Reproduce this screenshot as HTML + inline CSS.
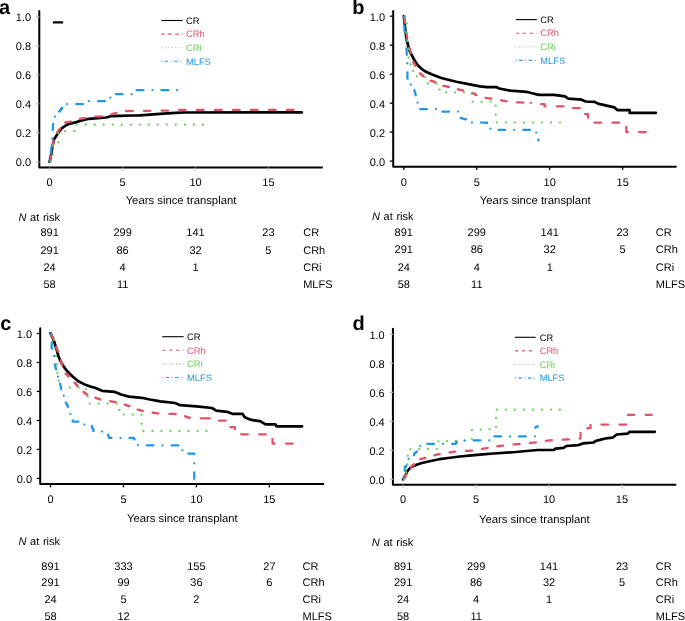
<!DOCTYPE html>
<html><head><meta charset="utf-8"><style>
html,body{margin:0;padding:0;background:#fff;}
svg{display:block;will-change:transform;}
text{font-family:"Liberation Sans",sans-serif;text-rendering:geometricPrecision;}
</style></head><body>
<svg width="685" height="621" viewBox="0 0 685 621">
<rect width="685" height="621" fill="#fff"/>

<text x="-1" y="13.6" font-size="20" font-weight="bold">a</text>
<polyline points="39.3,11.1 39.3,167.5 322.0,167.5" fill="none" stroke="#000" stroke-width="2" stroke-linecap="round" stroke-linejoin="round"/>
<line x1="35.9" y1="161.80" x2="39.3" y2="161.80" stroke="#bdbdbd" stroke-width="1.3"/>
<text x="31.1" y="166.00" font-size="11.0" text-anchor="end">0.0</text>
<line x1="35.9" y1="132.82" x2="39.3" y2="132.82" stroke="#bdbdbd" stroke-width="1.3"/>
<text x="31.1" y="137.02" font-size="11.0" text-anchor="end">0.2</text>
<line x1="35.9" y1="103.84" x2="39.3" y2="103.84" stroke="#bdbdbd" stroke-width="1.3"/>
<text x="31.1" y="108.04" font-size="11.0" text-anchor="end">0.4</text>
<line x1="35.9" y1="74.86" x2="39.3" y2="74.86" stroke="#bdbdbd" stroke-width="1.3"/>
<text x="31.1" y="79.06" font-size="11.0" text-anchor="end">0.6</text>
<line x1="35.9" y1="45.88" x2="39.3" y2="45.88" stroke="#bdbdbd" stroke-width="1.3"/>
<text x="31.1" y="50.08" font-size="11.0" text-anchor="end">0.8</text>
<line x1="35.9" y1="16.90" x2="39.3" y2="16.90" stroke="#bdbdbd" stroke-width="1.3"/>
<text x="31.1" y="21.10" font-size="11.0" text-anchor="end">1.0</text>
<line x1="49.60" y1="167.5" x2="49.60" y2="170.9" stroke="#bdbdbd" stroke-width="1.3"/>
<text x="49.60" y="186.0" font-size="11.0" text-anchor="middle">0</text>
<line x1="122.55" y1="167.5" x2="122.55" y2="170.9" stroke="#bdbdbd" stroke-width="1.3"/>
<text x="122.55" y="186.0" font-size="11.0" text-anchor="middle">5</text>
<line x1="195.50" y1="167.5" x2="195.50" y2="170.9" stroke="#bdbdbd" stroke-width="1.3"/>
<text x="195.50" y="186.0" font-size="11.0" text-anchor="middle">10</text>
<line x1="268.45" y1="167.5" x2="268.45" y2="170.9" stroke="#bdbdbd" stroke-width="1.3"/>
<text x="268.45" y="186.0" font-size="11.0" text-anchor="middle">15</text>
<text x="181.0" y="204.4" font-size="11.3" text-anchor="middle">Years since transplant</text>
<line x1="161.3" y1="20.5" x2="182.7" y2="20.5" stroke="#000000" stroke-width="1.1"/>
<text x="186.0" y="23.7" font-size="9.3" fill="#000000">CR</text>
<line x1="161.3" y1="34.1" x2="182.7" y2="34.1" stroke="#DF536B" stroke-width="1.1" stroke-dasharray="3.44,3.44"/>
<text x="186.0" y="37.3" font-size="9.3" fill="#DF536B">CRh</text>
<line x1="161.3" y1="47.7" x2="182.7" y2="47.7" stroke="#61D04F" stroke-width="1.1" stroke-dasharray="0.86,2.58"/>
<text x="186.0" y="50.9" font-size="9.3" fill="#61D04F">CRi</text>
<line x1="161.3" y1="61.3" x2="182.7" y2="61.3" stroke="#2297E6" stroke-width="1.1" stroke-dasharray="0.86,2.58,3.44,2.58"/>
<text x="186.0" y="64.5" font-size="9.3" fill="#2297E6">MLFS</text>
<polyline points="49.60,161.80 51.00,155.00 52.50,146.00 54.00,139.50 56.50,135.50 58.60,132.20 62.00,128.20 66.50,125.00 70.00,123.60 75.50,122.40 80.00,121.00 88.80,118.80 106.30,117.50 110.60,116.20 119.40,115.80 132.50,115.50 140.00,115.40 160.00,113.90 175.00,112.90 184.00,112.50 301.80,112.40" fill="none" stroke="#000000" stroke-width="2.7" stroke-linecap="round" stroke-linejoin="round"/>
<polyline points="49.60,162.20 49.87,162.20 49.87,160.74 50.14,160.74 50.14,159.29 50.41,159.29 50.41,157.83 50.69,157.83 50.69,156.37 50.96,156.37 50.96,154.91 51.23,154.91 51.23,153.46 51.50,153.46 51.50,152.00 51.76,152.00 51.76,150.50 52.02,150.50 52.02,149.00 52.29,149.00 52.29,147.50 52.55,147.50 52.55,146.00 52.81,146.00 52.81,144.50 53.08,144.50 53.08,143.00 53.34,143.00 53.34,141.50 53.60,141.50 53.60,140.00 54.16,140.00 54.16,138.66 54.72,138.66 54.72,137.32 55.28,137.32 55.28,135.98 55.84,135.98 55.84,134.64 56.40,134.64 56.40,133.30 57.25,133.30 57.25,132.03 58.10,132.03 58.10,130.75 58.95,130.75 58.95,129.47 59.80,129.47 59.80,128.20 60.92,128.20 60.92,126.80 62.05,126.80 62.05,125.40 63.17,125.40 63.17,124.00 64.30,124.00 64.30,122.60 65.64,122.60 65.64,122.38 66.98,122.38 66.98,122.16 68.32,122.16 68.32,121.94 69.66,121.94 69.66,121.72 71.00,121.72 71.00,121.50 72.50,121.50 72.50,121.00 74.00,121.00 74.00,120.50 75.50,120.50 75.50,120.00 77.00,120.00 77.00,119.50 78.50,119.50 78.50,119.00 80.00,119.00 80.00,118.50 81.50,118.50 81.50,118.38 83.00,118.38 83.00,118.25 84.50,118.25 84.50,118.12 86.00,118.12 86.00,118.00 87.60,118.00 87.60,117.72 89.20,117.72 89.20,117.44 90.80,117.44 90.80,117.16 92.40,117.16 92.40,116.88 94.00,116.88 94.00,116.60 103.00,116.40 104.25,116.40 104.25,116.18 105.50,116.18 105.50,115.95 106.75,115.95 106.75,115.72 108.00,115.72 108.00,115.50 109.30,115.50 109.30,114.95 110.60,114.95 110.60,114.40 111.92,114.40 111.92,114.06 113.24,114.06 113.24,113.72 114.56,113.72 114.56,113.38 115.88,113.38 115.88,113.04 117.20,113.04 117.20,112.70 118.60,112.70 118.60,111.95 120.00,111.95 120.00,111.20 133.00,110.90 134.57,110.90 134.57,110.89 136.14,110.89 136.14,110.87 137.72,110.87 137.72,110.86 139.29,110.86 139.29,110.84 140.86,110.84 140.86,110.83 142.43,110.83 142.43,110.82 144.01,110.82 144.01,110.80 145.58,110.80 145.58,110.79 147.15,110.79 147.15,110.78 148.72,110.78 148.72,110.76 150.30,110.76 150.30,110.75 151.87,110.75 151.87,110.73 153.44,110.73 153.44,110.72 155.01,110.72 155.01,110.71 156.59,110.71 156.59,110.69 158.16,110.69 158.16,110.68 159.73,110.68 159.73,110.67 161.30,110.67 161.30,110.65 162.88,110.65 162.88,110.64 164.45,110.64 164.45,110.62 166.02,110.62 166.02,110.61 167.59,110.61 167.59,110.60 169.17,110.60 169.17,110.58 170.74,110.58 170.74,110.57 172.31,110.57 172.31,110.56 173.88,110.56 173.88,110.54 175.46,110.54 175.46,110.53 177.03,110.53 177.03,110.51 178.60,110.51 178.60,110.50 179.00,110.50 179.00,109.90 297.00,109.90" fill="none" stroke="#DF536B" stroke-width="2.25" stroke-dasharray="6.75,11.25" stroke-linecap="round" stroke-dashoffset="-1.125" stroke-linejoin="round"/>
<polyline points="49.60,161.80 52.80,161.80 52.80,143.50 58.40,143.50 58.40,131.20 75.50,131.20 75.50,124.70 203.00,124.70" fill="none" stroke="#61D04F" stroke-width="2.25" stroke-dasharray="0.01,9.00" stroke-linecap="round" stroke-dashoffset="-1.125" stroke-linejoin="round"/>
<polyline points="49.60,161.80 49.77,161.80 49.77,160.33 49.95,160.33 49.95,158.85 50.12,158.85 50.12,157.38 50.30,157.38 50.30,155.90 50.48,155.90 50.48,154.43 50.65,154.43 50.65,152.95 50.83,152.95 50.83,151.47 51.00,151.47 51.00,150.00 51.17,150.00 51.17,148.55 51.35,148.55 51.35,147.10 51.52,147.10 51.52,145.65 51.70,145.65 51.70,144.20 51.88,144.20 51.88,142.75 52.05,142.75 52.05,141.30 52.23,141.30 52.23,139.85 52.40,139.85 52.40,138.40 52.46,138.40 52.46,136.96 52.52,136.96 52.52,135.52 52.58,135.52 52.58,134.08 52.64,134.08 52.64,132.64 52.70,132.64 52.70,131.20 52.76,131.20 52.76,129.76 52.82,129.76 52.82,128.32 52.88,128.32 52.88,126.88 52.94,126.88 52.94,125.44 53.00,125.44 53.00,124.00 53.32,124.00 53.32,122.50 53.64,122.50 53.64,121.00 53.96,121.00 53.96,119.50 54.28,119.50 54.28,118.00 54.60,118.00 54.60,116.50 55.70,116.50 55.70,115.22 56.80,115.22 56.80,113.95 57.90,113.95 57.90,112.68 59.00,112.68 59.00,111.40 59.97,111.40 59.97,110.17 60.93,110.17 60.93,108.93 61.90,108.93 61.90,107.70 63.37,107.70 63.37,106.47 64.83,106.47 64.83,105.23 66.30,105.23 66.30,104.00 87.00,104.00 87.00,101.20 107.00,101.20 107.00,97.50 112.00,97.50 112.00,94.20 134.50,94.20 134.50,90.20 178.60,90.20" fill="none" stroke="#2297E6" stroke-width="2.25" stroke-dasharray="0.01,9.00,6.75,9.00" stroke-linecap="round" stroke-dashoffset="-1.125" stroke-linejoin="round"/>
<text x="18.5" y="220.6" font-size="11.0" word-spacing="0.6"><tspan font-style="italic">N</tspan> at risk</text>
<text x="49.6" y="236.3" font-size="11.0" text-anchor="middle">891</text>
<text x="122.6" y="236.3" font-size="11.0" text-anchor="middle">299</text>
<text x="195.5" y="236.3" font-size="11.0" text-anchor="middle">141</text>
<text x="268.4" y="236.3" font-size="11.0" text-anchor="middle">23</text>
<text x="303.2" y="236.3" font-size="11.0">CR</text>
<text x="49.6" y="253.7" font-size="11.0" text-anchor="middle">291</text>
<text x="122.6" y="253.7" font-size="11.0" text-anchor="middle">86</text>
<text x="195.5" y="253.7" font-size="11.0" text-anchor="middle">32</text>
<text x="268.4" y="253.7" font-size="11.0" text-anchor="middle">5</text>
<text x="303.2" y="253.7" font-size="11.0">CRh</text>
<text x="49.6" y="270.9" font-size="11.0" text-anchor="middle">24</text>
<text x="122.6" y="270.9" font-size="11.0" text-anchor="middle">4</text>
<text x="195.5" y="270.9" font-size="11.0" text-anchor="middle">1</text>
<text x="303.2" y="270.9" font-size="11.0">CRi</text>
<text x="49.6" y="288.3" font-size="11.0" text-anchor="middle">58</text>
<text x="122.6" y="288.3" font-size="11.0" text-anchor="middle">11</text>
<text x="303.2" y="288.3" font-size="11.0">MLFS</text>
<text x="352.2" y="14.0" font-size="20" font-weight="bold">b</text>
<polyline points="393.2,10.9 393.2,166.7 675.8,166.7" fill="none" stroke="#000" stroke-width="2" stroke-linecap="round" stroke-linejoin="round"/>
<line x1="389.8" y1="161.10" x2="393.2" y2="161.10" stroke="#000" stroke-width="1.3"/>
<text x="385.0" y="165.90" font-size="11.0" text-anchor="end">0.0</text>
<line x1="389.8" y1="132.12" x2="393.2" y2="132.12" stroke="#000" stroke-width="1.3"/>
<text x="385.0" y="136.92" font-size="11.0" text-anchor="end">0.2</text>
<line x1="389.8" y1="103.14" x2="393.2" y2="103.14" stroke="#000" stroke-width="1.3"/>
<text x="385.0" y="107.94" font-size="11.0" text-anchor="end">0.4</text>
<line x1="389.8" y1="74.16" x2="393.2" y2="74.16" stroke="#000" stroke-width="1.3"/>
<text x="385.0" y="78.96" font-size="11.0" text-anchor="end">0.6</text>
<line x1="389.8" y1="45.18" x2="393.2" y2="45.18" stroke="#000" stroke-width="1.3"/>
<text x="385.0" y="49.98" font-size="11.0" text-anchor="end">0.8</text>
<line x1="389.8" y1="16.20" x2="393.2" y2="16.20" stroke="#000" stroke-width="1.3"/>
<text x="385.0" y="21.00" font-size="11.0" text-anchor="end">1.0</text>
<line x1="403.80" y1="166.7" x2="403.80" y2="170.1" stroke="#000" stroke-width="1.3"/>
<text x="403.80" y="186.2" font-size="11.0" text-anchor="middle">0</text>
<line x1="476.75" y1="166.7" x2="476.75" y2="170.1" stroke="#000" stroke-width="1.3"/>
<text x="476.75" y="186.2" font-size="11.0" text-anchor="middle">5</text>
<line x1="549.70" y1="166.7" x2="549.70" y2="170.1" stroke="#000" stroke-width="1.3"/>
<text x="549.70" y="186.2" font-size="11.0" text-anchor="middle">10</text>
<line x1="622.65" y1="166.7" x2="622.65" y2="170.1" stroke="#000" stroke-width="1.3"/>
<text x="622.65" y="186.2" font-size="11.0" text-anchor="middle">15</text>
<text x="535.2" y="204.2" font-size="11.3" text-anchor="middle">Years since transplant</text>
<line x1="515.8" y1="19.6" x2="536.8" y2="19.6" stroke="#000000" stroke-width="1.1"/>
<text x="540.3" y="22.8" font-size="9.3" fill="#000000">CR</text>
<line x1="515.8" y1="33.2" x2="536.8" y2="33.2" stroke="#DF536B" stroke-width="1.1" stroke-dasharray="3.44,3.44"/>
<text x="540.3" y="36.4" font-size="9.3" fill="#DF536B">CRh</text>
<line x1="515.8" y1="46.8" x2="536.8" y2="46.8" stroke="#61D04F" stroke-width="1.1" stroke-dasharray="0.86,2.58"/>
<text x="540.3" y="50.0" font-size="9.3" fill="#61D04F">CRi</text>
<line x1="515.8" y1="60.4" x2="536.8" y2="60.4" stroke="#2297E6" stroke-width="1.1" stroke-dasharray="0.86,2.58,3.44,2.58"/>
<text x="540.3" y="63.6" font-size="9.3" fill="#2297E6">MLFS</text>
<polyline points="403.80,16.20 406.40,39.20 409.60,50.90 414.00,59.60 417.00,64.20 421.30,68.60 426.00,71.80 431.50,74.30 441.30,78.00 456.30,81.70 470.90,84.60 480.00,86.30 487.00,87.20 496.60,87.20 499.30,88.50 510.60,90.70 526.40,91.80 530.00,92.70 538.80,94.90 554.10,94.90 565.00,96.40 568.30,98.60 581.50,99.70 585.80,101.50 594.60,101.90 597.90,103.60 614.30,107.40 617.60,110.20 629.60,110.20 629.60,112.80 655.90,112.80" fill="none" stroke="#000000" stroke-width="2.7" stroke-linecap="round" stroke-linejoin="round"/>
<polyline points="403.80,16.20 404.03,16.20 404.03,17.73 404.25,17.73 404.25,19.26 404.48,19.26 404.48,20.79 404.70,20.79 404.70,22.32 404.93,22.32 404.93,23.86 405.15,23.86 405.15,25.39 405.38,25.39 405.38,26.92 405.60,26.92 405.60,28.45 405.82,28.45 405.82,29.98 406.05,29.98 406.05,31.51 406.27,31.51 406.27,33.04 406.50,33.04 406.50,34.58 406.72,34.58 406.72,36.11 406.95,36.11 406.95,37.64 407.17,37.64 407.17,39.17 407.40,39.17 407.40,40.70 407.77,40.70 407.77,42.15 408.13,42.15 408.13,43.60 408.50,43.60 408.50,45.05 408.87,45.05 408.87,46.50 409.23,46.50 409.23,47.95 409.60,47.95 409.60,49.40 410.00,49.40 410.00,50.87 410.40,50.87 410.40,52.33 410.80,52.33 410.80,53.80 411.20,53.80 411.20,55.27 411.60,55.27 411.60,56.73 412.00,56.73 412.00,58.20 412.40,58.20 412.40,59.67 412.80,59.67 412.80,61.13 413.20,61.13 413.20,62.60 414.07,62.60 414.07,64.05 414.93,64.05 414.93,65.50 415.80,65.50 415.80,66.95 416.67,66.95 416.67,68.40 417.53,68.40 417.53,69.85 418.40,69.85 418.40,71.30 418.75,71.30 418.75,72.30 419.10,72.30 419.10,73.30 420.50,73.30 420.50,74.42 421.90,74.42 421.90,75.53 423.30,75.53 423.30,76.65 424.70,76.65 424.70,77.77 426.10,77.77 426.10,78.88 427.50,78.88 427.50,80.00 428.88,80.00 428.88,80.38 430.25,80.38 430.25,80.75 431.62,80.75 431.62,81.12 433.00,81.12 433.00,81.50 434.60,81.50 434.60,82.26 436.20,82.26 436.20,83.02 437.80,83.02 437.80,83.78 439.40,83.78 439.40,84.54 441.00,84.54 441.00,85.30 442.10,85.30 442.10,85.60 443.20,85.60 443.20,85.90 444.66,85.90 444.66,86.24 446.11,86.24 446.11,86.59 447.57,86.59 447.57,86.93 449.02,86.93 449.02,87.28 450.48,87.28 450.48,87.62 451.93,87.62 451.93,87.97 453.39,87.97 453.39,88.31 454.84,88.31 454.84,88.66 456.30,88.66 456.30,89.00 457.83,89.00 457.83,89.40 459.36,89.40 459.36,89.80 460.89,89.80 460.89,90.20 462.42,90.20 462.42,90.60 463.95,90.60 463.95,91.00 465.48,91.00 465.48,91.40 467.01,91.40 467.01,91.80 468.54,91.80 468.54,92.20 470.07,92.20 470.07,92.60 471.60,92.60 471.60,93.00 473.07,93.00 473.07,93.73 474.53,93.73 474.53,94.47 476.00,94.47 476.00,95.20 477.47,95.20 477.47,95.93 478.93,95.93 478.93,96.67 480.40,96.67 480.40,97.40 482.60,97.60 484.16,97.60 484.16,97.81 485.71,97.81 485.71,98.03 487.27,98.03 487.27,98.24 488.83,98.24 488.83,98.46 490.39,98.46 490.39,98.67 491.94,98.67 491.94,98.89 493.50,98.89 493.50,99.10 495.09,99.10 495.09,99.38 496.68,99.38 496.68,99.66 498.27,99.66 498.27,99.95 499.86,99.95 499.86,100.23 501.45,100.23 501.45,100.51 503.05,100.51 503.05,100.79 504.64,100.79 504.64,101.07 506.23,101.07 506.23,101.35 507.82,101.35 507.82,101.64 509.41,101.64 509.41,101.92 511.00,101.92 511.00,102.20 512.52,102.20 512.52,102.25 514.05,102.25 514.05,102.29 515.57,102.29 515.57,102.34 517.09,102.34 517.09,102.38 518.62,102.38 518.62,102.43 520.14,102.43 520.14,102.48 521.66,102.48 521.66,102.52 523.18,102.52 523.18,102.57 524.71,102.57 524.71,102.62 526.23,102.62 526.23,102.66 527.75,102.66 527.75,102.71 529.28,102.71 529.28,102.75 530.80,102.75 530.80,102.80" fill="none" stroke="#DF536B" stroke-width="2.25" stroke-dasharray="6.75,11.25" stroke-linecap="round" stroke-dashoffset="-1.125" stroke-linejoin="round"/>
<polyline points="530.80,102.80 541.00,102.80 541.00,104.10 544.50,104.10 544.50,106.30 570.00,106.30 570.00,108.00 583.00,108.00 583.00,114.00 588.00,114.00 588.00,122.70 626.30,122.70 626.30,132.10 647.10,132.10" fill="none" stroke="#DF536B" stroke-width="2.25" stroke-dasharray="6.75,11.25" stroke-linecap="round" stroke-dashoffset="6.475" stroke-linejoin="round"/>
<polyline points="403.80,16.20 406.00,16.20 406.00,22.40 406.70,22.40 406.70,39.20 406.93,39.20 406.93,40.67 407.17,40.67 407.17,42.13 407.40,42.13 407.40,43.60 407.63,43.60 407.63,45.07 407.87,45.07 407.87,46.53 408.10,46.53 408.10,48.00 408.10,56.70 408.54,56.70 408.54,58.16 408.98,58.16 408.98,59.62 409.42,59.62 409.42,61.08 409.86,61.08 409.86,62.54 410.30,62.54 410.30,64.00 410.74,64.00 410.74,65.32 411.18,65.32 411.18,66.64 411.62,66.64 411.62,67.96 412.06,67.96 412.06,69.28 412.50,69.28 412.50,70.60 413.23,70.60 413.23,72.05 413.95,72.05 413.95,73.50 414.67,73.50 414.67,74.95 415.40,74.95 415.40,76.40 424.90,76.40 425.20,76.40 425.20,77.80 425.50,77.80 425.50,79.20 425.80,79.20 425.80,80.60 426.10,80.60 426.10,82.00 426.40,82.00 426.40,83.40 435.90,83.40 436.62,83.40 436.62,84.98 437.35,84.98 437.35,86.55 438.07,86.55 438.07,88.12 438.80,88.12 438.80,89.70 440.12,89.70 440.12,90.22 441.44,90.22 441.44,90.74 442.76,90.74 442.76,91.26 444.08,91.26 444.08,91.78 445.40,91.78 445.40,92.30 471.60,92.30 471.68,92.30 471.68,93.87 471.77,93.87 471.77,95.43 471.85,95.43 471.85,97.00 471.93,97.00 471.93,98.57 472.02,98.57 472.02,100.13 472.10,100.13 472.10,101.70 495.70,101.70 495.70,122.50 560.70,122.50" fill="none" stroke="#61D04F" stroke-width="2.25" stroke-dasharray="0.01,9.00" stroke-linecap="round" stroke-dashoffset="-1.125" stroke-linejoin="round"/>
<polyline points="403.80,16.20 403.92,16.20 403.92,17.60 404.03,17.60 404.03,19.00 404.15,19.00 404.15,20.40 404.27,20.40 404.27,21.80 404.38,21.80 404.38,23.20 404.50,23.20 404.50,24.60 404.50,30.40 404.75,30.40 404.75,31.87 405.00,31.87 405.00,33.33 405.25,33.33 405.25,34.80 405.50,34.80 405.50,36.27 405.75,36.27 405.75,37.73 406.00,37.73 406.00,39.20 406.07,39.20 406.07,40.66 406.14,40.66 406.14,42.12 406.21,42.12 406.21,43.58 406.28,43.58 406.28,45.04 406.35,45.04 406.35,46.50 406.42,46.50 406.42,47.96 406.49,47.96 406.49,49.42 406.56,49.42 406.56,50.88 406.63,50.88 406.63,52.34 406.70,52.34 406.70,53.80 406.82,53.80 406.82,55.27 406.93,55.27 406.93,56.73 407.05,56.73 407.05,58.20 407.17,58.20 407.17,59.67 407.28,59.67 407.28,61.13 407.40,61.13 407.40,62.60 407.40,78.60 407.95,78.60 407.95,80.07 408.50,80.07 408.50,81.55 409.05,81.55 409.05,83.03 409.60,83.03 409.60,84.50 410.70,84.50 410.70,85.78 411.80,85.78 411.80,87.05 412.90,87.05 412.90,88.32 414.00,88.32 414.00,89.60 414.35,89.60 414.35,90.88 414.70,90.88 414.70,92.15 415.05,92.15 415.05,93.42 415.40,93.42 415.40,94.70 415.70,94.70 415.70,96.10 416.00,96.10 416.00,97.50 416.30,97.50 416.30,98.90 416.60,98.90 416.60,100.30 416.90,100.30 416.90,101.70 417.56,101.70 417.56,103.16 418.22,103.16 418.22,104.62 418.88,104.62 418.88,106.08 419.54,106.08 419.54,107.54 420.20,107.54 420.20,109.00 438.00,109.00 438.00,111.60 459.00,111.60 459.34,111.60 459.34,112.92 459.68,112.92 459.68,114.24 460.02,114.24 460.02,115.56 460.36,115.56 460.36,116.88 460.70,116.88 460.70,118.20 462.13,118.20 462.13,118.57 463.57,118.57 463.57,118.93 465.00,118.93 465.00,119.30 466.32,119.30 466.32,119.94 467.64,119.94 467.64,120.58 468.96,120.58 468.96,121.22 470.28,121.22 470.28,121.86 471.60,121.86 471.60,122.50 486.00,122.50 487.05,122.50 487.05,124.05 488.10,124.05 488.10,125.60 489.15,125.60 489.15,127.15 490.20,127.15 490.20,128.70 491.74,128.70 491.74,128.92 493.28,128.92 493.28,129.14 494.82,129.14 494.82,129.36 496.36,129.36 496.36,129.58 497.90,129.58 497.90,129.80 531.90,129.80 533.33,129.80 533.33,131.03 534.77,131.03 534.77,132.27 536.20,132.27 536.20,133.50 536.64,133.50 536.64,134.90 537.08,134.90 537.08,136.30 537.52,136.30 537.52,137.70 537.96,137.70 537.96,139.10 538.40,139.10 538.40,140.50" fill="none" stroke="#2297E6" stroke-width="2.25" stroke-dasharray="0.01,9.00,6.75,9.00" stroke-linecap="round" stroke-dashoffset="-1.125" stroke-linejoin="round"/>
<text x="372.0" y="220.3" font-size="11.0" word-spacing="0.6"><tspan font-style="italic">N</tspan> at risk</text>
<text x="403.8" y="236.2" font-size="11.0" text-anchor="middle">891</text>
<text x="476.8" y="236.2" font-size="11.0" text-anchor="middle">299</text>
<text x="549.7" y="236.2" font-size="11.0" text-anchor="middle">141</text>
<text x="622.6" y="236.2" font-size="11.0" text-anchor="middle">23</text>
<text x="655.8" y="236.2" font-size="11.0">CR</text>
<text x="403.8" y="253.4" font-size="11.0" text-anchor="middle">291</text>
<text x="476.8" y="253.4" font-size="11.0" text-anchor="middle">86</text>
<text x="549.7" y="253.4" font-size="11.0" text-anchor="middle">32</text>
<text x="622.6" y="253.4" font-size="11.0" text-anchor="middle">5</text>
<text x="655.8" y="253.4" font-size="11.0">CRh</text>
<text x="403.8" y="270.5" font-size="11.0" text-anchor="middle">24</text>
<text x="476.8" y="270.5" font-size="11.0" text-anchor="middle">4</text>
<text x="549.7" y="270.5" font-size="11.0" text-anchor="middle">1</text>
<text x="655.8" y="270.5" font-size="11.0">CRi</text>
<text x="403.8" y="288.3" font-size="11.0" text-anchor="middle">58</text>
<text x="476.8" y="288.3" font-size="11.0" text-anchor="middle">11</text>
<text x="655.8" y="288.3" font-size="11.0">MLFS</text>
<text x="0.2" y="330.2" font-size="20" font-weight="bold">c</text>
<polyline points="40.2,328.3 40.2,484.0 323.3,484.0" fill="none" stroke="#000" stroke-width="2" stroke-linecap="round" stroke-linejoin="round"/>
<line x1="36.800000000000004" y1="478.40" x2="40.2" y2="478.40" stroke="#000" stroke-width="1.3"/>
<text x="32.0" y="482.70" font-size="11.0" text-anchor="end">0.0</text>
<line x1="36.800000000000004" y1="449.42" x2="40.2" y2="449.42" stroke="#000" stroke-width="1.3"/>
<text x="32.0" y="453.72" font-size="11.0" text-anchor="end">0.2</text>
<line x1="36.800000000000004" y1="420.44" x2="40.2" y2="420.44" stroke="#000" stroke-width="1.3"/>
<text x="32.0" y="424.74" font-size="11.0" text-anchor="end">0.4</text>
<line x1="36.800000000000004" y1="391.46" x2="40.2" y2="391.46" stroke="#000" stroke-width="1.3"/>
<text x="32.0" y="395.76" font-size="11.0" text-anchor="end">0.6</text>
<line x1="36.800000000000004" y1="362.48" x2="40.2" y2="362.48" stroke="#000" stroke-width="1.3"/>
<text x="32.0" y="366.78" font-size="11.0" text-anchor="end">0.8</text>
<line x1="36.800000000000004" y1="333.50" x2="40.2" y2="333.50" stroke="#000" stroke-width="1.3"/>
<text x="32.0" y="337.80" font-size="11.0" text-anchor="end">1.0</text>
<line x1="50.50" y1="484.0" x2="50.50" y2="487.4" stroke="#000" stroke-width="1.3"/>
<text x="50.50" y="503.0" font-size="11.0" text-anchor="middle">0</text>
<line x1="123.45" y1="484.0" x2="123.45" y2="487.4" stroke="#000" stroke-width="1.3"/>
<text x="123.45" y="503.0" font-size="11.0" text-anchor="middle">5</text>
<line x1="196.40" y1="484.0" x2="196.40" y2="487.4" stroke="#000" stroke-width="1.3"/>
<text x="196.40" y="503.0" font-size="11.0" text-anchor="middle">10</text>
<line x1="269.35" y1="484.0" x2="269.35" y2="487.4" stroke="#000" stroke-width="1.3"/>
<text x="269.35" y="503.0" font-size="11.0" text-anchor="middle">15</text>
<text x="182.3" y="522.4" font-size="11.3" text-anchor="middle">Years since transplant</text>
<line x1="162.3" y1="336.7" x2="183.6" y2="336.7" stroke="#000000" stroke-width="1.1"/>
<text x="187.1" y="339.9" font-size="9.3" fill="#000000">CR</text>
<line x1="162.3" y1="350.3" x2="183.6" y2="350.3" stroke="#DF536B" stroke-width="1.1" stroke-dasharray="3.44,3.44"/>
<text x="187.1" y="353.5" font-size="9.3" fill="#DF536B">CRh</text>
<line x1="162.3" y1="363.9" x2="183.6" y2="363.9" stroke="#61D04F" stroke-width="1.1" stroke-dasharray="0.86,2.58"/>
<text x="187.1" y="367.1" font-size="9.3" fill="#61D04F">CRi</text>
<line x1="162.3" y1="377.5" x2="183.6" y2="377.5" stroke="#2297E6" stroke-width="1.1" stroke-dasharray="0.86,2.58,3.44,2.58"/>
<text x="187.1" y="380.7" font-size="9.3" fill="#2297E6">MLFS</text>
<polyline points="50.50,333.30 53.80,340.50 56.40,348.80 58.50,356.20 60.60,361.40 63.70,366.60 66.80,370.80 72.10,376.00 78.30,381.30 84.60,384.40 91.90,387.00 95.00,387.80 102.00,390.80 114.90,391.90 121.90,394.80 128.90,396.60 141.70,397.80 149.90,399.50 160.40,401.30 175.00,403.00 180.20,405.20 190.00,405.80 196.60,406.30 211.90,408.00 216.30,410.70 227.20,411.80 232.70,413.90 242.60,413.90 244.70,417.20 251.30,419.90 260.10,421.20 265.50,424.40 275.40,424.40 276.50,426.40 302.10,426.40" fill="none" stroke="#000000" stroke-width="2.7" stroke-linecap="round" stroke-linejoin="round"/>
<polyline points="50.50,333.50 51.18,333.50 51.18,335.00 51.87,335.00 51.87,336.50 52.55,336.50 52.55,338.00 53.23,338.00 53.23,339.50 53.92,339.50 53.92,341.00 54.60,341.00 54.60,342.50 55.09,342.50 55.09,343.97 55.58,343.97 55.58,345.43 56.07,345.43 56.07,346.90 56.56,346.90 56.56,348.37 57.04,348.37 57.04,349.83 57.53,349.83 57.53,351.30 58.02,351.30 58.02,352.77 58.51,352.77 58.51,354.23 59.00,354.23 59.00,355.70 59.46,355.70 59.46,357.22 59.93,357.22 59.93,358.74 60.39,358.74 60.39,360.25 60.85,360.25 60.85,361.77 61.32,361.77 61.32,363.29 61.78,363.29 61.78,364.81 62.25,364.81 62.25,366.33 62.71,366.33 62.71,367.85 63.17,367.85 63.17,369.36 63.64,369.36 63.64,370.88 64.10,370.88 64.10,372.40 65.43,372.40 65.43,373.75 66.77,373.75 66.77,375.10 68.10,375.10 68.10,376.45 69.43,376.45 69.43,377.80 70.77,377.80 70.77,379.15 72.10,379.15 72.10,380.50 73.36,380.50 73.36,381.93 74.61,381.93 74.61,383.36 75.87,383.36 75.87,384.79 77.13,384.79 77.13,386.21 78.39,386.21 78.39,387.64 79.64,387.64 79.64,389.07 80.90,389.07 80.90,390.50 82.25,390.50 82.25,391.50 83.60,391.50 83.60,392.50 84.95,392.50 84.95,393.50 86.30,393.50 86.30,394.50 87.65,394.50 87.65,395.50 89.00,395.50 89.00,396.50 90.05,396.50 90.05,396.65 91.10,396.65 91.10,396.80 92.60,396.80 92.60,397.26 94.10,397.26 94.10,397.73 95.60,397.73 95.60,398.19 97.10,398.19 97.10,398.65 98.60,398.65 98.60,399.11 100.10,399.11 100.10,399.57 101.60,399.57 101.60,400.04 103.10,400.04 103.10,400.50 105.70,400.50 107.22,400.50 107.22,400.76 108.74,400.76 108.74,401.01 110.27,401.01 110.27,401.27 111.79,401.27 111.79,401.52 113.31,401.52 113.31,401.78 114.83,401.78 114.83,402.03 116.36,402.03 116.36,402.29 117.88,402.29 117.88,402.54 119.40,402.54 119.40,402.80 120.90,402.80 120.90,403.37 122.40,403.37 122.40,403.94 123.90,403.94 123.90,404.51 125.40,404.51 125.40,405.09 126.90,405.09 126.90,405.66 128.40,405.66 128.40,406.23 129.90,406.23 129.90,406.80 131.40,406.80 131.40,407.34 132.90,407.34 132.90,407.89 134.40,407.89 134.40,408.43 135.90,408.43 135.90,408.97 137.40,408.97 137.40,409.51 138.90,409.51 138.90,410.06 140.40,410.06 140.40,410.60 141.89,410.60 141.89,410.85 143.38,410.85 143.38,411.11 144.87,411.11 144.87,411.36 146.36,411.36 146.36,411.62 147.85,411.62 147.85,411.87 149.35,411.87 149.35,412.13 150.84,412.13 150.84,412.38 152.33,412.38 152.33,412.64 153.82,412.64 153.82,412.89 155.31,412.89 155.31,413.15 156.80,413.15 156.80,413.40 158.30,413.40 158.30,413.45 159.80,413.45 159.80,413.50 161.30,413.50 161.30,413.55 162.80,413.55 162.80,413.60 164.30,413.60 164.30,413.65 165.80,413.65 165.80,413.70 167.30,413.70 167.30,413.75 168.80,413.75 168.80,413.80 170.30,413.80 170.30,413.85 171.80,413.85 171.80,413.90 173.30,413.90 173.30,413.95 174.80,413.95 174.80,414.00 176.30,414.00 176.30,414.05 177.80,414.05 177.80,414.10 179.26,414.10 179.26,414.59 180.73,414.59 180.73,415.08 182.19,415.08 182.19,415.56 183.65,415.56 183.65,416.05 185.11,416.05 185.11,416.54 186.57,416.54 186.57,417.02 188.04,417.02 188.04,417.51 189.50,417.51 189.50,418.00 190.67,418.00 190.67,418.10 191.83,418.10 191.83,418.20 193.00,418.20 193.00,418.30 202.00,418.30" fill="none" stroke="#DF536B" stroke-width="2.25" stroke-dasharray="6.75,11.25" stroke-linecap="round" stroke-dashoffset="-1.125" stroke-linejoin="round"/>
<polyline points="202.00,418.30 212.00,418.30 212.00,420.50 228.00,420.50 228.00,427.10 234.90,427.10 234.90,431.50 237.00,431.50 237.00,434.30 272.50,434.30 272.50,443.50 295.10,443.50" fill="none" stroke="#DF536B" stroke-width="2.25" stroke-dasharray="6.75,11.25" stroke-linecap="round" stroke-dashoffset="-1.125" stroke-linejoin="round"/>
<polyline points="50.50,333.50 52.70,333.50 52.70,340.00 54.80,340.00 54.80,356.20 56.90,356.20 56.90,372.40 57.40,372.40 57.40,380.70 59.00,380.70 59.00,387.50 84.00,387.50 84.00,389.10 86.00,389.10 86.28,389.10 86.28,390.44 86.56,390.44 86.56,391.78 86.84,391.78 86.84,393.12 87.12,393.12 87.12,394.46 87.40,394.46 87.40,395.80 87.72,395.80 87.72,397.34 88.04,397.34 88.04,398.88 88.36,398.88 88.36,400.42 88.68,400.42 88.68,401.96 89.00,401.96 89.00,403.50 115.90,403.50 116.78,403.50 116.78,405.10 117.65,405.10 117.65,406.70 118.53,406.70 118.53,408.30 119.40,408.30 119.40,409.90 120.57,409.90 120.57,411.43 121.73,411.43 121.73,412.97 122.90,412.97 122.90,414.50 141.60,414.50 141.60,430.90 207.50,430.90" fill="none" stroke="#61D04F" stroke-width="2.25" stroke-dasharray="0.01,9.00" stroke-linecap="round" stroke-dashoffset="-1.125" stroke-linejoin="round"/>
<polyline points="50.50,333.50 50.74,333.50 50.74,335.02 50.98,335.02 50.98,336.54 51.22,336.54 51.22,338.06 51.46,338.06 51.46,339.58 51.70,339.58 51.70,341.10 51.70,348.40 52.14,348.40 52.14,349.86 52.58,349.86 52.58,351.32 53.02,351.32 53.02,352.78 53.46,352.78 53.46,354.24 53.90,354.24 53.90,355.70 54.02,355.70 54.02,357.15 54.13,357.15 54.13,358.60 54.25,358.60 54.25,360.05 54.37,360.05 54.37,361.50 54.48,361.50 54.48,362.95 54.60,362.95 54.60,364.40 54.98,364.40 54.98,365.88 55.35,365.88 55.35,367.35 55.73,367.35 55.73,368.82 56.10,368.82 56.10,370.30 56.45,370.30 56.45,371.75 56.80,371.75 56.80,373.20 57.15,373.20 57.15,374.65 57.50,374.65 57.50,376.10 57.94,376.10 57.94,377.56 58.38,377.56 58.38,379.02 58.82,379.02 58.82,380.48 59.26,380.48 59.26,381.94 59.70,381.94 59.70,383.40 60.08,383.40 60.08,384.85 60.45,384.85 60.45,386.30 60.83,386.30 60.83,387.75 61.20,387.75 61.20,389.20 61.75,389.20 61.75,390.57 62.30,390.57 62.30,391.95 62.85,391.95 62.85,393.32 63.40,393.32 63.40,394.70 63.78,394.70 63.78,396.05 64.17,396.05 64.17,397.40 64.55,397.40 64.55,398.75 64.93,398.75 64.93,400.10 65.32,400.10 65.32,401.45 65.70,401.45 65.70,402.80 66.33,402.80 66.33,404.00 66.97,404.00 66.97,405.20 67.60,405.20 67.60,406.40 68.06,406.40 68.06,407.80 68.52,407.80 68.52,409.20 68.98,409.20 68.98,410.60 69.44,410.60 69.44,412.00 69.90,412.00 69.90,413.40 70.37,413.40 70.37,414.75 70.83,414.75 70.83,416.10 71.30,416.10 71.30,417.45 71.77,417.45 71.77,418.80 72.23,418.80 72.23,420.15 72.70,420.15 72.70,421.50 77.40,421.50 78.85,421.50 78.85,422.27 80.30,422.27 80.30,423.05 81.75,423.05 81.75,423.83 83.20,423.83 83.20,424.60 84.57,424.60 84.57,424.87 85.93,424.87 85.93,425.13 87.30,425.13 87.30,425.40 88.67,425.40 88.67,425.67 90.03,425.67 90.03,425.93 91.40,425.93 91.40,426.20 92.03,426.20 92.03,427.77 92.67,427.77 92.67,429.33 93.30,429.33 93.30,430.90 94.73,430.90 94.73,431.02 96.17,431.02 96.17,431.13 97.60,431.13 97.60,431.25 99.03,431.25 99.03,431.37 100.47,431.37 100.47,431.48 101.90,431.48 101.90,431.60 103.35,431.60 103.35,432.30 104.80,432.30 104.80,433.00 106.25,433.00 106.25,433.70 107.70,433.70 107.70,434.40 108.10,434.40 108.10,435.57 108.50,435.57 108.50,436.73 108.90,436.73 108.90,437.90 133.40,437.90 134.00,437.90 134.00,439.05 134.60,439.05 134.60,440.20 135.47,440.20 135.47,441.50 136.35,441.50 136.35,442.80 137.22,442.80 137.22,444.10 138.10,444.10 138.10,445.40 180.50,445.40 180.50,450.30 185.50,450.30 185.50,453.50 194.20,453.50 194.20,478.80" fill="none" stroke="#2297E6" stroke-width="2.25" stroke-dasharray="0.01,9.00,6.75,9.00" stroke-linecap="round" stroke-dashoffset="-1.125" stroke-linejoin="round"/>
<text x="18.5" y="545.2" font-size="11.0" word-spacing="0.6"><tspan font-style="italic">N</tspan> at risk</text>
<text x="50.5" y="569.8" font-size="11.0" text-anchor="middle">891</text>
<text x="123.5" y="569.8" font-size="11.0" text-anchor="middle">333</text>
<text x="196.4" y="569.8" font-size="11.0" text-anchor="middle">155</text>
<text x="269.4" y="569.8" font-size="11.0" text-anchor="middle">27</text>
<text x="302.6" y="569.8" font-size="11.0">CR</text>
<text x="50.5" y="585.6" font-size="11.0" text-anchor="middle">291</text>
<text x="123.5" y="585.6" font-size="11.0" text-anchor="middle">99</text>
<text x="196.4" y="585.6" font-size="11.0" text-anchor="middle">36</text>
<text x="269.4" y="585.6" font-size="11.0" text-anchor="middle">6</text>
<text x="302.6" y="585.6" font-size="11.0">CRh</text>
<text x="50.5" y="602.7" font-size="11.0" text-anchor="middle">24</text>
<text x="123.5" y="602.7" font-size="11.0" text-anchor="middle">5</text>
<text x="196.4" y="602.7" font-size="11.0" text-anchor="middle">2</text>
<text x="302.6" y="602.7" font-size="11.0">CRi</text>
<text x="50.5" y="619.8" font-size="11.0" text-anchor="middle">58</text>
<text x="123.5" y="619.8" font-size="11.0" text-anchor="middle">12</text>
<text x="302.6" y="619.8" font-size="11.0">MLFS</text>
<text x="352.4" y="330.2" font-size="20" font-weight="bold">d</text>
<polyline points="392.9,328.8 392.9,484.7 675.5,484.7" fill="none" stroke="#000" stroke-width="2" stroke-linecap="round" stroke-linejoin="round"/>
<line x1="389.5" y1="479.30" x2="392.9" y2="479.30" stroke="#c4c4c4" stroke-width="1.3"/>
<text x="384.7" y="483.60" font-size="11.0" text-anchor="end">0.0</text>
<line x1="389.5" y1="450.32" x2="392.9" y2="450.32" stroke="#c4c4c4" stroke-width="1.3"/>
<text x="384.7" y="454.62" font-size="11.0" text-anchor="end">0.2</text>
<line x1="389.5" y1="421.34" x2="392.9" y2="421.34" stroke="#c4c4c4" stroke-width="1.3"/>
<text x="384.7" y="425.64" font-size="11.0" text-anchor="end">0.4</text>
<line x1="389.5" y1="392.36" x2="392.9" y2="392.36" stroke="#c4c4c4" stroke-width="1.3"/>
<text x="384.7" y="396.66" font-size="11.0" text-anchor="end">0.6</text>
<line x1="389.5" y1="363.38" x2="392.9" y2="363.38" stroke="#c4c4c4" stroke-width="1.3"/>
<text x="384.7" y="367.68" font-size="11.0" text-anchor="end">0.8</text>
<line x1="389.5" y1="334.40" x2="392.9" y2="334.40" stroke="#c4c4c4" stroke-width="1.3"/>
<text x="384.7" y="338.70" font-size="11.0" text-anchor="end">1.0</text>
<line x1="403.10" y1="484.7" x2="403.10" y2="488.09999999999997" stroke="#c4c4c4" stroke-width="1.3"/>
<text x="403.10" y="502.6" font-size="11.0" text-anchor="middle">0</text>
<line x1="476.05" y1="484.7" x2="476.05" y2="488.09999999999997" stroke="#c4c4c4" stroke-width="1.3"/>
<text x="476.05" y="502.6" font-size="11.0" text-anchor="middle">5</text>
<line x1="549.00" y1="484.7" x2="549.00" y2="488.09999999999997" stroke="#c4c4c4" stroke-width="1.3"/>
<text x="549.00" y="502.6" font-size="11.0" text-anchor="middle">10</text>
<line x1="621.95" y1="484.7" x2="621.95" y2="488.09999999999997" stroke="#c4c4c4" stroke-width="1.3"/>
<text x="621.95" y="502.6" font-size="11.0" text-anchor="middle">15</text>
<text x="534.3" y="522.5" font-size="11.3" text-anchor="middle">Years since transplant</text>
<line x1="515.0" y1="337.3" x2="535.6" y2="337.3" stroke="#000000" stroke-width="1.1"/>
<text x="539.7" y="340.5" font-size="9.3" fill="#000000">CR</text>
<line x1="515.0" y1="350.9" x2="535.6" y2="350.9" stroke="#DF536B" stroke-width="1.1" stroke-dasharray="3.44,3.44"/>
<text x="539.7" y="354.1" font-size="9.3" fill="#DF536B">CRh</text>
<line x1="515.0" y1="364.5" x2="535.6" y2="364.5" stroke="#61D04F" stroke-width="1.1" stroke-dasharray="0.86,2.58"/>
<text x="539.7" y="367.7" font-size="9.3" fill="#61D04F">CRi</text>
<line x1="515.0" y1="378.1" x2="535.6" y2="378.1" stroke="#2297E6" stroke-width="1.1" stroke-dasharray="0.86,2.58,3.44,2.58"/>
<text x="539.7" y="381.3" font-size="9.3" fill="#2297E6">MLFS</text>
<polyline points="403.10,479.30 405.00,476.00 407.50,471.00 410.00,468.00 413.50,466.00 418.00,464.20 421.90,463.00 430.60,461.00 439.40,459.20 448.20,458.00 460.00,456.50 471.90,455.30 482.60,454.30 493.80,453.50 515.70,452.00 537.60,450.00 554.00,450.00 555.30,448.60 563.60,447.90 566.30,446.00 578.50,445.10 582.90,443.40 593.40,442.50 596.00,440.80 600.00,439.90 605.30,438.50 612.60,437.70 616.60,434.50 627.80,433.70 629.40,431.80 654.80,431.80" fill="none" stroke="#000000" stroke-width="2.7" stroke-linecap="round" stroke-linejoin="round"/>
<polyline points="403.10,479.30 403.83,479.30 403.83,477.77 404.57,477.77 404.57,476.23 405.30,476.23 405.30,474.70 406.30,474.70 406.30,473.31 407.30,473.31 407.30,471.93 408.30,471.93 408.30,470.54 409.30,470.54 409.30,469.16 410.30,469.16 410.30,467.77 411.30,467.77 411.30,466.39 412.30,466.39 412.30,465.00 413.80,465.00 413.80,463.84 415.30,463.84 415.30,462.68 416.80,462.68 416.80,461.52 418.30,461.52 418.30,460.36 419.80,460.36 419.80,459.20 421.37,459.20 421.37,458.73 422.93,458.73 422.93,458.27 424.50,458.27 424.50,457.80 425.97,457.80 425.97,457.40 427.43,457.40 427.43,457.00 428.90,457.00 428.90,456.60 430.37,456.60 430.37,456.20 431.83,456.20 431.83,455.80 433.30,455.80 433.30,455.40 434.60,455.40 434.60,455.08 435.90,455.08 435.90,454.76 437.20,454.76 437.20,454.44 438.50,454.44 438.50,454.12 439.80,454.12 439.80,453.80 441.20,453.80 441.20,453.60 442.60,453.60 442.60,453.40 444.00,453.40 444.00,453.20 445.40,453.20 445.40,453.00 446.80,453.00 446.80,452.80 448.20,452.80 448.20,452.60 449.60,452.60 449.60,452.38 451.00,452.38 451.00,452.16 452.40,452.16 452.40,451.94 453.80,451.94 453.80,451.72 455.20,451.72 455.20,451.50 456.72,451.50 456.72,451.42 458.24,451.42 458.24,451.34 459.75,451.34 459.75,451.25 461.27,451.25 461.27,451.17 462.79,451.17 462.79,451.09 464.31,451.09 464.31,451.01 465.83,451.01 465.83,450.93 467.35,450.93 467.35,450.85 468.86,450.85 468.86,450.76 470.38,450.76 470.38,450.68 471.90,450.68 471.90,450.60 473.47,450.60 473.47,450.31 475.05,450.31 475.05,450.03 476.62,450.03 476.62,449.74 478.20,449.74 478.20,449.45 479.77,449.45 479.77,449.16 481.35,449.16 481.35,448.88 482.93,448.88 482.93,448.59 484.50,448.59 484.50,448.30 486.05,448.30 486.05,448.05 487.60,448.05 487.60,447.80 489.15,447.80 489.15,447.55 490.70,447.55 490.70,447.30 492.25,447.30 492.25,447.05 493.80,447.05 493.80,446.80 495.35,446.80 495.35,446.55 496.90,446.55 496.90,446.30 498.45,446.30 498.45,446.05 500.00,446.05 500.00,445.80 501.50,445.80 501.50,445.65 503.00,445.65 503.00,445.51 504.50,445.51 504.50,445.36 506.00,445.36 506.00,445.22 507.50,445.22 507.50,445.07 509.00,445.07 509.00,444.93 510.50,444.93 510.50,444.78 512.00,444.78 512.00,444.64 513.50,444.64 513.50,444.49 515.00,444.49 515.00,444.35 516.50,444.35 516.50,444.20 518.09,444.20 518.09,444.05 519.68,444.05 519.68,443.89 521.27,443.89 521.27,443.74 522.86,443.74 522.86,443.58 524.45,443.58 524.45,443.43 526.05,443.43 526.05,443.27 527.64,443.27 527.64,443.12 529.23,443.12 529.23,442.96 530.82,442.96 530.82,442.81 532.41,442.81 532.41,442.65 534.00,442.65 534.00,442.50 535.45,442.50 535.45,442.29 536.90,442.29 536.90,442.08 538.35,442.08 538.35,441.87 539.80,441.87 539.80,441.66 541.25,441.66 541.25,441.45 542.70,441.45 542.70,441.24 544.15,441.24 544.15,441.03 545.60,441.03 545.60,440.82 547.05,440.82 547.05,440.61 548.50,440.61 548.50,440.40 550.10,440.40 550.10,440.32 551.70,440.32 551.70,440.23 553.30,440.23 553.30,440.15 554.90,440.15 554.90,440.06 556.50,440.06 556.50,439.98 558.10,439.98 558.10,439.89 559.70,439.89 559.70,439.81 561.30,439.81 561.30,439.72 562.90,439.72 562.90,439.64 564.50,439.64 564.50,439.55 566.10,439.55 566.10,439.47 567.70,439.47 567.70,439.38 569.30,439.38 569.30,439.30 570.70,439.30 570.70,439.19 572.10,439.19 572.10,439.07 573.50,439.07 573.50,438.96 574.90,438.96 574.90,438.85 576.30,438.85 576.30,438.74 577.70,438.74 577.70,438.62 579.10,438.62 579.10,438.51 580.50,438.51 580.50,438.40 580.50,431.00 587.50,431.00 587.50,428.10 590.50,428.10 590.50,424.50 626.00,424.50 626.00,414.80 651.90,414.80" fill="none" stroke="#DF536B" stroke-width="2.25" stroke-dasharray="6.75,11.25" stroke-linecap="round" stroke-dashoffset="-1.125" stroke-linejoin="round"/>
<polyline points="403.10,479.30 405.50,479.30 405.62,479.30 405.62,478.02 405.74,478.02 405.74,476.74 405.86,476.74 405.86,475.46 405.98,475.46 405.98,474.18 406.10,474.18 406.10,472.90 406.36,472.90 406.36,471.32 406.62,471.32 406.62,469.74 406.88,469.74 406.88,468.16 407.14,468.16 407.14,466.58 407.40,466.58 407.40,465.00 407.40,456.00 407.82,456.00 407.82,454.66 408.24,454.66 408.24,453.32 408.66,453.32 408.66,451.98 409.08,451.98 409.08,450.64 409.50,450.64 409.50,449.30 411.02,449.30 411.02,449.27 412.53,449.27 412.53,449.24 414.05,449.24 414.05,449.22 415.57,449.22 415.57,449.19 417.08,449.19 417.08,449.16 418.60,449.16 418.60,449.13 420.12,449.13 420.12,449.11 421.63,449.11 421.63,449.08 423.15,449.08 423.15,449.05 424.67,449.05 424.67,449.02 426.18,449.02 426.18,448.99 427.70,448.99 427.70,448.97 429.22,448.97 429.22,448.94 430.73,448.94 430.73,448.91 432.25,448.91 432.25,448.88 433.77,448.88 433.77,448.86 435.28,448.86 435.28,448.83 436.80,448.83 436.80,448.80 437.00,448.80 437.00,447.32 437.20,447.32 437.20,445.84 437.40,445.84 437.40,444.36 437.60,444.36 437.60,442.88 437.80,442.88 437.80,441.40 439.35,441.40 439.35,441.35 440.90,441.35 440.90,441.30 442.45,441.30 442.45,441.25 444.00,441.25 444.00,441.20 445.55,441.20 445.55,441.15 447.10,441.15 447.10,441.10 448.65,441.10 448.65,441.05 450.20,441.05 450.20,441.00 451.75,441.00 451.75,440.95 453.30,440.95 453.30,440.90 454.85,440.90 454.85,440.85 456.40,440.85 456.40,440.80 457.95,440.80 457.95,440.75 459.50,440.75 459.50,440.70 461.05,440.70 461.05,440.65 462.60,440.65 462.60,440.60 464.15,440.60 464.15,440.55 465.70,440.55 465.70,440.50 467.25,440.50 467.25,440.45 468.80,440.45 468.80,440.40 470.35,440.40 470.35,440.35 471.90,440.35 471.90,440.30 471.90,429.90 473.41,429.90 473.41,429.86 474.91,429.86 474.91,429.81 476.42,429.81 476.42,429.77 477.92,429.77 477.92,429.72 479.43,429.72 479.43,429.68 480.94,429.68 480.94,429.64 482.44,429.64 482.44,429.59 483.95,429.59 483.95,429.55 485.46,429.55 485.46,429.51 486.96,429.51 486.96,429.46 488.47,429.46 488.47,429.42 489.98,429.42 489.98,429.38 491.48,429.38 491.48,429.33 492.99,429.33 492.99,429.29 494.49,429.29 494.49,429.24 496.00,429.24 496.00,429.20 496.00,418.00 496.07,418.00 496.07,416.62 496.13,416.62 496.13,415.23 496.20,415.23 496.20,413.85 496.27,413.85 496.27,412.47 496.33,412.47 496.33,411.08 496.40,411.08 496.40,409.70 560.60,409.70" fill="none" stroke="#61D04F" stroke-width="2.25" stroke-dasharray="0.01,9.00" stroke-linecap="round" stroke-dashoffset="-1.125" stroke-linejoin="round"/>
<polyline points="403.10,479.30 403.38,479.30 403.38,477.95 403.67,477.95 403.67,476.60 403.95,476.60 403.95,475.25 404.23,475.25 404.23,473.90 404.52,473.90 404.52,472.55 404.80,472.55 404.80,471.20 404.80,466.80 406.10,466.80 406.10,465.50 406.46,465.50 406.46,464.18 406.82,464.18 406.82,462.86 407.18,462.86 407.18,461.54 407.54,461.54 407.54,460.22 407.90,460.22 407.90,458.90 409.42,458.90 409.42,458.12 410.95,458.12 410.95,457.35 412.48,457.35 412.48,456.57 414.00,456.57 414.00,455.80 414.00,453.60 415.10,453.60 415.10,452.55 416.20,452.55 416.20,451.50 417.07,451.50 417.07,450.07 417.95,450.07 417.95,448.65 418.82,448.65 418.82,447.23 419.70,447.23 419.70,445.80 421.02,445.80 421.02,445.40 422.34,445.40 422.34,445.00 423.66,445.00 423.66,444.60 424.98,444.60 424.98,444.20 426.30,444.20 426.30,443.80 455.00,443.80 456.00,443.80 456.00,442.20 457.00,442.20 457.00,440.60 489.40,440.40 490.87,440.40 490.87,439.07 492.33,439.07 492.33,437.73 493.80,437.73 493.80,436.40 535.40,436.40 535.40,427.20 536.50,427.20 536.50,426.65 537.60,426.65 537.60,426.10" fill="none" stroke="#2297E6" stroke-width="2.25" stroke-dasharray="0.01,9.00,6.75,9.00" stroke-linecap="round" stroke-dashoffset="-1.125" stroke-linejoin="round"/>
<text x="371.8" y="545.7" font-size="11.0" word-spacing="0.6"><tspan font-style="italic">N</tspan> at risk</text>
<text x="403.1" y="569.8" font-size="11.0" text-anchor="middle">891</text>
<text x="476.1" y="569.8" font-size="11.0" text-anchor="middle">299</text>
<text x="549.0" y="569.8" font-size="11.0" text-anchor="middle">141</text>
<text x="622.0" y="569.8" font-size="11.0" text-anchor="middle">23</text>
<text x="655.8" y="569.8" font-size="11.0">CR</text>
<text x="403.1" y="585.6" font-size="11.0" text-anchor="middle">291</text>
<text x="476.1" y="585.6" font-size="11.0" text-anchor="middle">86</text>
<text x="549.0" y="585.6" font-size="11.0" text-anchor="middle">32</text>
<text x="622.0" y="585.6" font-size="11.0" text-anchor="middle">5</text>
<text x="655.8" y="585.6" font-size="11.0">CRh</text>
<text x="403.1" y="602.7" font-size="11.0" text-anchor="middle">24</text>
<text x="476.1" y="602.7" font-size="11.0" text-anchor="middle">4</text>
<text x="549.0" y="602.7" font-size="11.0" text-anchor="middle">1</text>
<text x="655.8" y="602.7" font-size="11.0">CRi</text>
<text x="403.1" y="619.8" font-size="11.0" text-anchor="middle">58</text>
<text x="476.1" y="619.8" font-size="11.0" text-anchor="middle">11</text>
<text x="655.8" y="619.8" font-size="11.0">MLFS</text>
<line x1="54" y1="22.4" x2="62" y2="22.4" stroke="#000" stroke-width="2.4" stroke-linecap="round"/>
</svg>
</body></html>
